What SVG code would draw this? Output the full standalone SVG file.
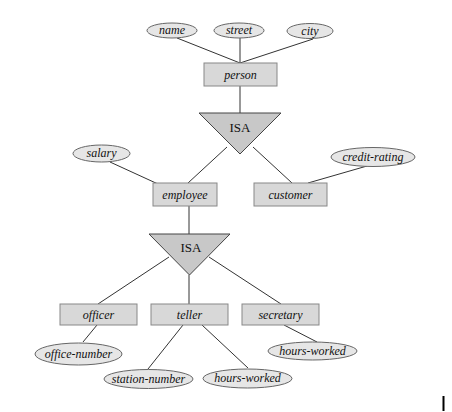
<svg xmlns="http://www.w3.org/2000/svg" width="452" height="412" viewBox="0 0 452 412">
<style>
.ell{fill:#e6e6e6;stroke:#666;stroke-width:1}
.ent{fill:#d8d8d8;stroke:#888;stroke-width:1}
.isa{fill:#c8c8c8;stroke:#444;stroke-width:1}
.ln{stroke:#333;stroke-width:1;fill:none}
.t{font-family:"Liberation Serif",serif;font-style:italic;font-size:12px;fill:#111;text-anchor:middle;dominant-baseline:central}
.i{font-family:"Liberation Serif",serif;font-size:13px;fill:#111;text-anchor:middle;dominant-baseline:central}
</style>
<rect width="452" height="412" fill="#fff"/>
<g id="connectors">
<line class="ln" x1="177" y1="38" x2="240" y2="63"/>
<line class="ln" x1="240" y1="38" x2="240" y2="63"/>
<line class="ln" x1="313" y1="39" x2="240" y2="63"/>
<line class="ln" x1="240" y1="86" x2="240" y2="113"/>
<line class="ln" x1="110" y1="162" x2="158" y2="184"/>
<line class="ln" x1="227" y1="147" x2="188" y2="183"/>
<line class="ln" x1="253" y1="147" x2="292" y2="183"/>
<line class="ln" x1="367" y1="166" x2="308" y2="183"/>
<line class="ln" x1="189" y1="206" x2="189" y2="234"/>
<line class="ln" x1="169" y1="257" x2="98" y2="304"/>
<line class="ln" x1="189" y1="275" x2="189" y2="304"/>
<line class="ln" x1="209" y1="257" x2="281" y2="304"/>
<line class="ln" x1="97" y1="325" x2="83" y2="342"/>
<line class="ln" x1="183" y1="325" x2="148" y2="369"/>
<line class="ln" x1="202" y1="325" x2="248" y2="368"/>
<line class="ln" x1="284" y1="325" x2="317" y2="342"/>
</g>
<g id="name"><ellipse class="ell" cx="172" cy="30.5" rx="25" ry="7.5"/><text class="t" x="172" y="30">name</text></g>
<g id="street"><ellipse class="ell" cx="239" cy="30.5" rx="25" ry="7.5"/><text class="t" x="239" y="30">street</text></g>
<g id="city"><ellipse class="ell" cx="310" cy="31" rx="23" ry="7.5"/><text class="t" x="310" y="30.5">city</text></g>
<g id="person"><rect class="ent" x="204" y="63" width="73" height="23"/><text class="t" x="240.5" y="74.5">person</text></g>
<g id="isa1"><polygon class="isa" points="199,113 281,113 240,154"/><text class="i" x="240" y="127">ISA</text></g>
<g id="salary"><ellipse class="ell" cx="101.5" cy="153.5" rx="28.5" ry="8.5"/><text class="t" x="101.5" y="153">salary</text></g>
<g id="credit-rating"><ellipse class="ell" cx="373" cy="157" rx="42" ry="9.5"/><text class="t" x="373" y="156.5">credit-rating</text></g>
<g id="employee"><rect class="ent" x="153" y="183" width="64" height="23"/><text class="t" x="185" y="194.5">employee</text></g>
<g id="customer"><rect class="ent" x="254" y="183" width="73" height="23"/><text class="t" x="290.5" y="194.5">customer</text></g>
<g id="isa2"><polygon class="isa" points="149,234 230,234 189.5,275"/><text class="i" x="191" y="247">ISA</text></g>
<g id="officer"><rect class="ent" x="60" y="304" width="77" height="21"/><text class="t" x="98.5" y="314.5">officer</text></g>
<g id="teller"><rect class="ent" x="151" y="304" width="77" height="21"/><text class="t" x="189.5" y="314.5">teller</text></g>
<g id="secretary"><rect class="ent" x="242" y="304" width="77" height="21"/><text class="t" x="280.5" y="314.5">secretary</text></g>
<g id="office-number"><ellipse class="ell" cx="78.5" cy="354" rx="43.5" ry="11"/><text class="t" x="78.5" y="353.5">office-number</text></g>
<g id="station-number"><ellipse class="ell" cx="148.5" cy="379" rx="44.5" ry="9.5"/><text class="t" x="148.5" y="378.5">station-number</text></g>
<g id="hours-worked-teller"><ellipse class="ell" cx="247.5" cy="378.5" rx="44.5" ry="9.5"/><text class="t" x="247.5" y="378">hours-worked</text></g>
<g id="hours-worked-secretary"><ellipse class="ell" cx="312.5" cy="351" rx="44.5" ry="9"/><text class="t" x="312.5" y="350.5">hours-worked</text></g>
<rect x="442.5" y="396" width="2" height="15" fill="#000"/>
</svg>
